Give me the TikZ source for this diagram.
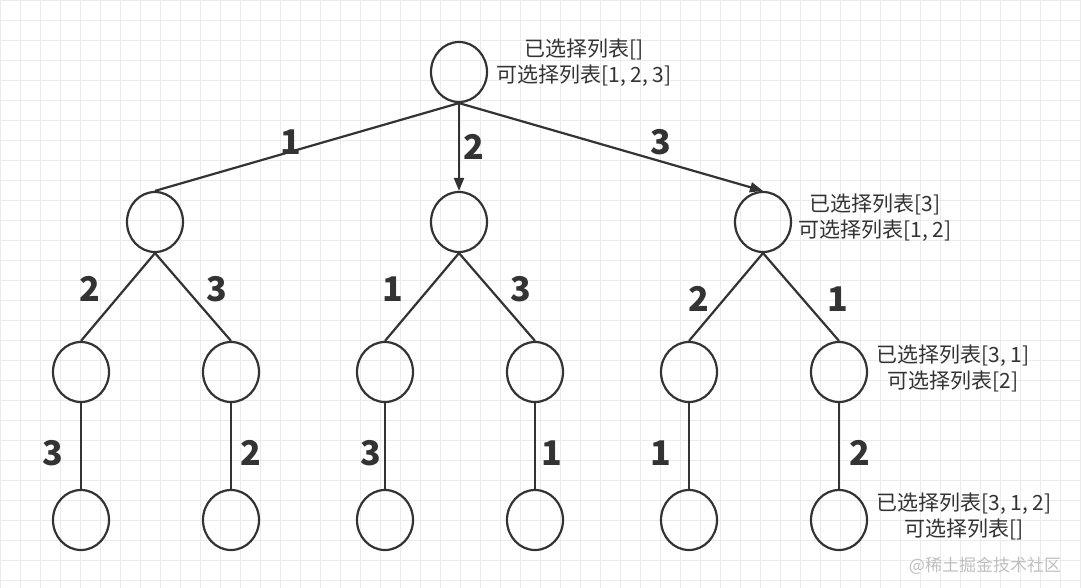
\documentclass[tikz,border=0pt]{standalone}
\usepackage{fontspec}
\setmainfont{Noto Sans CJK SC}
\usetikzlibrary{arrows.meta,shapes.geometric}
\definecolor{ink}{HTML}{333333}
\definecolor{gridcol}{HTML}{EBEBEB}
\tikzset{
  state/.style={draw=ink,line width=2.2pt,ellipse,minimum width=56pt,minimum height=60pt,inner sep=0pt},
  edge/.style={draw=ink,line width=2.2pt},
  num/.style={font=\fontsize{34}{34}\selectfont\bfseries,text=ink},
  info/.style={font=\fontsize{21}{26}\selectfont,text=ink,align=center},
}
\begin{document}
\begin{tikzpicture}[x=1pt,y=-1pt,>={Triangle[length=13pt,width=10pt]}]
\useasboundingbox (0,0) rectangle (1081,588);
\fill[white] (0,0) rectangle (1081,588);
\draw[gridcol,line width=0.8pt] (0,0) grid[step=20pt] (1081,588);
%% nodes
\node[state] (r) at (459,72) {};
\node[state] (a) at (155,222) {};
\node[state] (b) at (459,222) {};
\node[state] (c) at (763,222) {};
\foreach \n/\x in {a1/81,a2/231,b1/385,b2/535,c1/689,c2/839}{
  \node[state] (\n) at (\x,372) {};
  \node[state] (\n l) at (\x,520) {};
}
%% edges
\draw[edge] (r.south) -- (a.north);
\draw[edge,->] (r.south) -- (b.north);
\draw[edge,->] (r.south) -- (c.north);
\foreach \p/\k in {a/a1,a/a2,b/b1,b/b2,c/c1,c/c2}{
  \draw[edge] (\p.south) -- (\k.north);
  \draw[edge] (\k.south) -- (\k l.north);
}
%% edge labels
\node[num] (e1) at (291,142) {1};
\node[num] (e2) at (474,147) {2};
\node[num] (e3) at (661,142) {3};
\node[num] (e4) at (90,289) {2};
\node[num] (e5) at (217,289) {3};
\node[num] (e6) at (393,289) {1};
\node[num] (e7) at (521,289) {3};
\node[num] (e8) at (699,299) {2};
\node[num] (e9) at (838,299) {1};
\node[num] (e10) at (53,453) {3};
\node[num] (e11) at (251,453) {2};
\node[num] (e12) at (371,453) {3};
\node[num] (e13) at (552,453) {1};
\node[num] (e14) at (661,453) {1};
\node[num] (e15) at (860,453) {2};
%% state texts
\node[info] (t1) at (584,63) {已选择列表[]\\可选择列表[1, 2, 3]};
\node[info] (t2) at (875,218) {已选择列表[3]\\可选择列表[1, 2]};
\node[info] (t3) at (953,368) {已选择列表[3, 1]\\可选择列表[2]};
\node[info] (t4) at (964,516) {已选择列表[3, 1, 2]\\可选择列表[]};
\node[font=\fontsize{17}{17}\selectfont,text=black!25] (wm) at (985,566) {@稀土掘金技术社区};
\end{tikzpicture}
\end{document}
